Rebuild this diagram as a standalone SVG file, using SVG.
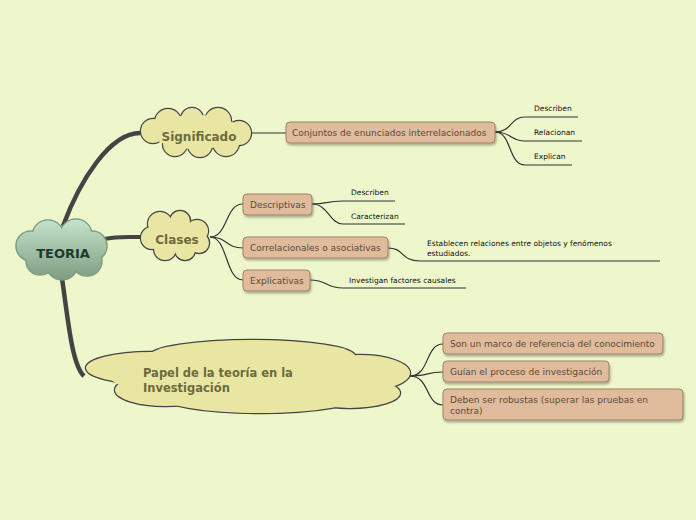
<svg xmlns="http://www.w3.org/2000/svg" width="696" height="520" viewBox="0 0 696 520">
<defs>
<linearGradient id="g" gradientUnits="userSpaceOnUse" x1="0" y1="219" x2="0" y2="280"><stop offset="0" stop-color="#c6e4cc"/><stop offset="1" stop-color="#7e9c80"/></linearGradient>
<filter id="sh" x="-10%" y="-20%" width="120%" height="150%"><feDropShadow dx="1" dy="2" stdDeviation="1" flood-color="#000" flood-opacity="0.3"/></filter>
</defs>
<style>
.ck{fill:none;stroke:#444;stroke-width:2.4}
.cy{fill:#e9e6a4}
.ct{font-family:"DejaVu Sans",sans-serif;font-weight:bold;fill:#6b6b3c}
.bx{fill:#e0bc9c;stroke:#9c8466;stroke-width:1}
.bt{font-family:"DejaVu Sans",sans-serif;font-size:9px;fill:#5a4a3a}
.lt{font-family:"DejaVu Sans",sans-serif;font-size:7.5px;fill:#111}
.ln{fill:none;stroke:#333;stroke-width:1.2}
.lf{fill:none;stroke:#333;stroke-width:1.4}
</style>
<rect width="696" height="520" fill="#eef6cc"/>
<g id="connectors">
<path d="M63,226 C80,180 110,133 140,133" fill="none" stroke="#444" stroke-width="4.5"/>
<path d="M104,239 C118,236 128,237 140,237" fill="none" stroke="#444" stroke-width="4"/>
<path d="M62,278 C68,320 72,365 84,376" fill="none" stroke="#444" stroke-width="4.5"/>
<path class="ln" d="M252,133 H286"/>
<path class="ln" d="M495,132 C512,132 510,117 525,117 H578"/>
<path class="ln" d="M495,132 C512,132 510,141 525,141 H582"/>
<path class="ln" d="M495,132 C512,132 508,165 525,165 H572"/>
<path class="ln" d="M210,237 C228,237 225,204 243,204"/>
<path class="ln" d="M210,237 C228,237 225,248 243,248"/>
<path class="ln" d="M210,237 C228,237 225,280 243,280"/>
<path class="ln" d="M312,204 C328,204 325,201 343,201 H395"/>
<path class="ln" d="M312,204 C328,204 330,224 343,224 H405"/>
<path class="ln" d="M388,248 C405,248 400,261 420,261 H660"/>
<path class="ln" d="M310,280 C328,280 325,288 343,288 H466"/>
<path class="ln" d="M410,376 C430,376 425,344 443,344"/>
<path class="ln" d="M410,376 C430,376 425,372 443,372"/>
<path class="ln" d="M410,376 C430,376 425,405 443,405"/>
</g>
<g id="teoria">
<g stroke="#7e9c80" stroke-width="1.5" fill="url(#g)">
<circle cx="48" cy="236" r="16"/><circle cx="76" cy="235" r="16"/><circle cx="31" cy="246" r="15"/><circle cx="92" cy="246" r="15"/><circle cx="40" cy="261" r="14"/><circle cx="62" cy="264" r="16"/><circle cx="87" cy="261" r="15"/>
</g>
<g fill="url(#g)">
<circle cx="48" cy="236" r="15.2"/><circle cx="76" cy="235" r="15.2"/><circle cx="31" cy="246" r="14.2"/><circle cx="92" cy="246" r="14.2"/><circle cx="40" cy="261" r="13.2"/><circle cx="62" cy="264" r="15.2"/><circle cx="87" cy="261" r="14.2"/><ellipse cx="62" cy="250" rx="32" ry="18"/>
</g>
<text x="63" y="258" text-anchor="middle" font-family="DejaVu Sans,sans-serif" font-weight="bold" font-size="13" fill="#1e3a28">TEORIA</text>
</g>
<g id="significado">
<g class="ck"><circle cx="168" cy="122" r="13"/><circle cx="192" cy="119" r="11"/><circle cx="218" cy="121" r="13"/><circle cx="239" cy="133" r="12"/><circle cx="153" cy="131" r="12"/><circle cx="175" cy="144" r="12"/><circle cx="200" cy="145" r="12"/><circle cx="226" cy="143" r="13"/></g>
<g class="cy"><circle cx="168" cy="122" r="13"/><circle cx="192" cy="119" r="11"/><circle cx="218" cy="121" r="13"/><circle cx="239" cy="133" r="12"/><circle cx="153" cy="131" r="12"/><circle cx="175" cy="144" r="12"/><circle cx="200" cy="145" r="12"/><circle cx="226" cy="143" r="13"/><ellipse cx="196" cy="132" rx="45" ry="17"/></g>
<text class="ct" x="199" y="141" text-anchor="middle" font-size="12">Significado</text>
</g>
<g id="clases">
<g class="ck"><circle cx="160" cy="224" r="12"/><circle cx="180" cy="221" r="10"/><circle cx="197" cy="231" r="11"/><circle cx="152" cy="238" r="11"/><circle cx="165" cy="249" r="11"/><circle cx="185" cy="250" r="10"/><circle cx="199" cy="243" r="10"/></g>
<g class="cy"><circle cx="160" cy="224" r="12"/><circle cx="180" cy="221" r="10"/><circle cx="197" cy="231" r="11"/><circle cx="152" cy="238" r="11"/><circle cx="165" cy="249" r="11"/><circle cx="185" cy="250" r="10"/><circle cx="199" cy="243" r="10"/><ellipse cx="175" cy="236" rx="24" ry="15"/></g>
<text class="ct" x="177" y="244" text-anchor="middle" font-size="12">Clases</text>
</g>
<g id="papel">
<g class="ck"><ellipse cx="150" cy="368" rx="64" ry="16"/><ellipse cx="252" cy="356" rx="103" ry="16"/><ellipse cx="360" cy="373" rx="50" ry="18"/><ellipse cx="165" cy="390" rx="50" ry="16"/><ellipse cx="260" cy="396" rx="100" ry="17"/><ellipse cx="350" cy="393" rx="50" ry="15"/></g>
<g class="cy"><ellipse cx="150" cy="368" rx="64" ry="16"/><ellipse cx="252" cy="356" rx="103" ry="16"/><ellipse cx="360" cy="373" rx="50" ry="18"/><ellipse cx="165" cy="390" rx="50" ry="16"/><ellipse cx="260" cy="396" rx="100" ry="17"/><ellipse cx="350" cy="393" rx="50" ry="15"/><ellipse cx="250" cy="376" rx="140" ry="25"/></g>
<text class="ct" x="143" y="377" font-size="11.5">Papel de la teoría en la</text>
<text class="ct" x="143" y="392" font-size="11.5">Investigación</text>
</g>
<g id="conjuntos"><rect class="bx" filter="url(#sh)" x="286" y="122" width="209" height="21" rx="4"/><text class="bt" x="292" y="136">Conjuntos de enunciados interrelacionados</text></g>
<g id="descriptivas"><rect class="bx" filter="url(#sh)" x="243" y="194" width="69" height="21" rx="4"/><text class="bt" x="250" y="208">Descriptivas</text></g>
<g id="correlacionales"><rect class="bx" filter="url(#sh)" x="243" y="237" width="145" height="21" rx="4"/><text class="bt" x="250" y="251">Correlacionales o asociativas</text></g>
<g id="explicativas"><rect class="bx" filter="url(#sh)" x="243" y="270" width="67" height="21" rx="4"/><text class="bt" x="250" y="284">Explicativas</text></g>
<g id="marco"><rect class="bx" filter="url(#sh)" x="443" y="333" width="220" height="21" rx="4"/><text class="bt" x="450" y="347">Son un marco de referencia del conocimiento</text></g>
<g id="guian"><rect class="bx" filter="url(#sh)" x="443" y="361" width="166" height="21" rx="4"/><text class="bt" x="450" y="375">Guían el proceso de investigación</text></g>
<g id="deben"><rect class="bx" filter="url(#sh)" x="443" y="389" width="240" height="31" rx="4"/><text class="bt" x="450" y="403">Deben ser robustas (superar las pruebas en</text><text class="bt" x="450" y="414">contra)</text></g>
<g id="leaves">
<text class="lt" x="534" y="111">Describen</text>
<text class="lt" x="534" y="135">Relacionan</text>
<text class="lt" x="534" y="159">Explican</text>
<text class="lt" x="351" y="195">Describen</text>
<text class="lt" x="351" y="219">Caracterizan</text>
<text class="lt" x="427" y="246">Establecen relaciones entre objetos y fenómenos</text>
<text class="lt" x="427" y="256">estudiados.</text>
<text class="lt" x="349" y="283">Investigan factores causales</text>
</g>
</svg>
